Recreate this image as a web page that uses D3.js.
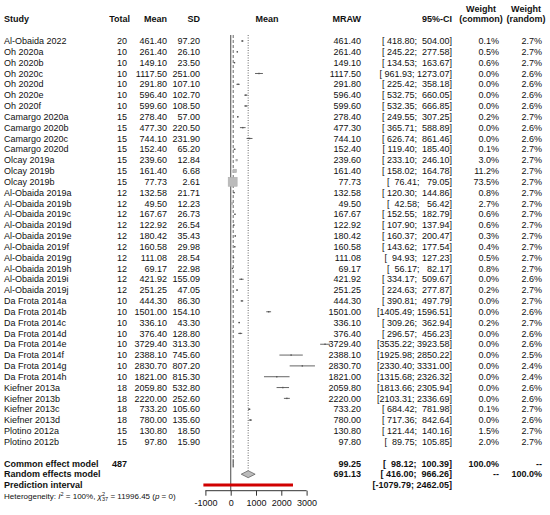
<!DOCTYPE html>
<html>
<head>
<meta charset="utf-8">
<script src="https://cdn.jsdelivr.net/npm/d3@7"></script>
<style>
  body { margin: 0; background: #fff; }
  svg text { font-family: "Liberation Sans", Arial, sans-serif; font-size: 9px; fill: #111; white-space: pre; }
  .bold { font-weight: bold; }
</style>
</head>
<body>
<svg id="chart" width="550" height="515" viewBox="0 0 550 515"></svg>
<script>
// ---- data ----
const studies = ["Al-Obaida 2022","Oh 2020a","Oh 2020b","Oh 2020c","Oh 2020d","Oh 2020e","Oh 2020f",
  "Camargo 2020a","Camargo 2020b","Camargo 2020c","Camargo 2020d","Olcay 2019a","Olcay 2019b","Olcay 2019b",
  "Al-Obaida 2019a","Al-Obaida 2019b","Al-Obaida 2019c","Al-Obaida 2019d","Al-Obaida 2019e","Al-Obaida 2019f",
  "Al-Obaida 2019g","Al-Obaida 2019h","Al-Obaida 2019i","Al-Obaida 2019j",
  "Da Frota 2014a","Da Frota 2014b","Da Frota 2014c","Da Frota 2014d","Da Frota 2014e","Da Frota 2014f",
  "Da Frota 2014g","Da Frota 2014h","Kiefner 2013a","Kiefner 2013b","Kiefner 2013c","Kiefner 2013d",
  "Plotino 2012a","Plotino 2012b"]
const totals = [20,10,10,10,10,10,10,15,15,15,15,15,15,15,12,12,12,12,12,12,12,12,12,12,
  10,10,10,10,10,10,10,10,18,18,18,18,15,15]
const means = [461.40,261.40,149.10,1117.50,291.80,596.40,599.60,278.40,477.30,744.10,152.40,239.60,161.40,77.73,
  132.58,49.50,167.67,122.92,180.42,160.58,111.08,69.17,421.92,251.25,
  444.30,1501.00,336.10,376.40,3729.40,2388.10,2830.70,1821.00,2059.80,2220.00,733.20,780.00,130.80,97.80]
const sds = [97.20,26.10,23.50,251.00,107.10,102.70,108.50,57.00,220.50,231.90,65.20,12.84,6.68,2.61,
  21.71,12.23,26.73,26.54,35.43,29.98,28.54,22.98,155.09,47.05,
  86.30,154.10,43.30,128.80,313.30,745.60,807.20,815.30,532.80,252.60,105.60,135.60,18.50,15.90]
const ciLower = [418.80,245.22,134.53,961.93,225.42,532.75,532.35,249.55,365.71,626.74,119.40,233.10,158.02,76.41,
  120.30,42.58,152.55,107.90,160.37,143.62,94.93,56.17,334.17,224.63,
  390.81,1405.49,309.26,296.57,3535.22,1925.98,2330.40,1315.68,1813.66,2103.31,684.42,717.36,121.44,89.75]
const ciUpper = [504.00,277.58,163.67,1273.07,358.18,660.05,666.85,307.25,588.89,861.46,185.40,246.10,164.78,79.05,
  144.86,56.42,182.79,137.94,200.47,177.54,127.23,82.17,509.67,277.87,
  497.79,1596.51,362.94,456.23,3923.58,2850.22,3331.00,2326.32,2305.94,2336.69,781.98,842.64,140.16,105.85]
const wCommon = [0.1,0.5,0.6,0.0,0.0,0.0,0.0,0.2,0.0,0.0,0.1,3.0,11.2,73.5,
  0.8,2.7,0.6,0.6,0.3,0.4,0.5,0.8,0.0,0.2,
  0.0,0.0,0.2,0.0,0.0,0.0,0.0,0.0,0.0,0.0,0.1,0.0,1.5,2.0]
const wRandom = [2.7,2.7,2.7,2.6,2.6,2.6,2.6,2.7,2.6,2.6,2.7,2.7,2.7,2.7,
  2.7,2.7,2.7,2.7,2.7,2.7,2.7,2.7,2.6,2.7,
  2.7,2.6,2.7,2.6,2.6,2.5,2.4,2.4,2.6,2.6,2.7,2.6,2.7,2.7]

const commonModel = {est: 99.25, lo: 98.12, hi: 100.39, total: 487}
const randomModel = {est: 691.13, lo: 416.00, hi: 966.26}
const predInterval = {lo: -1079.79, hi: 2462.05}
const xTicks = [-1000, 0, 1000, 2000, 3000]

// ---- layout ----
const svg = d3.select("#chart")
const rowY = d3.scaleLinear().domain([0, 1]).range([41, 51.83])   // row index -> y centre
const x = d3.scaleLinear().domain([0, 1000]).range([230.7, 256])   // plot scale
const f2 = d3.format(".2f")
const f1 = d3.format(".1f")
const pad = (s, n) => " ".repeat(Math.max(0, n - s.length)) + s
const fmtNum = v => f2(v).replace("−", "-")
const ciText = (lo, hi) => "[" + pad(fmtNum(lo), 7) + "; " + pad(fmtNum(hi), 7) + "]"

const col = {study: 4, total: 127, mean: 167, sd: 200, mraw: 361, ci: 452, wc: 499, wr: 542}

function txt(xp, row, s, anchor, cls) {
  return svg.append("text")
    .attr("x", xp).attr("y", rowY(row)).attr("dy", "0.35em")
    .attr("text-anchor", anchor || "end")
    .attr("class", cls || null)
    .text(s)
}

// headers
txt(col.study, -2, "Study", "start", "bold")
txt(130, -2, "Total", "end", "bold")
txt(col.mean, -2, "Mean", "end", "bold")
txt(col.sd, -2, "SD", "end", "bold")
txt(267, -2, "Mean", "middle", "bold")
txt(col.mraw, -2, "MRAW", "end", "bold")
txt(col.ci, -2, "95%-CI", "end", "bold")
txt(481, -3, "Weight", "middle", "bold")
txt(481, -2, "(common)", "middle", "bold")
txt(526, -3, "Weight", "middle", "bold")
txt(526, -2, "(random)", "middle", "bold")

// study rows
studies.forEach((s, i) => {
  txt(col.study, i, s, "start")
  txt(col.total, i, totals[i])
  txt(col.mean, i, f2(means[i]))
  txt(col.sd, i, f2(sds[i]))
  txt(col.mraw, i, f2(means[i]))
  txt(col.ci, i, ciText(ciLower[i], ciUpper[i]))
  txt(col.wc, i, f1(wCommon[i]) + "%")
  txt(col.wr, i, f1(wRandom[i]) + "%")
})

// summary rows
const rC = studies.length + 1, rR = rC + 1, rP = rR + 1
txt(col.study, rC, "Common effect model", "start", "bold")
txt(col.total, rC, commonModel.total, "end", "bold")
txt(col.mraw, rC, f2(commonModel.est), "end", "bold")
txt(col.ci, rC, ciText(commonModel.lo, commonModel.hi), "end", "bold")
txt(col.wc, rC, "100.0%", "end", "bold")
txt(col.wr, rC, "--", "end", "bold")
txt(col.study, rR, "Random effects model", "start", "bold")
txt(col.mraw, rR, f2(randomModel.est), "end", "bold")
txt(col.ci, rR, ciText(randomModel.lo, randomModel.hi), "end", "bold")
txt(col.wc, rR, "--", "end", "bold")
txt(col.wr, rR, "100.0%", "end", "bold")
txt(col.study, rP, "Prediction interval", "start", "bold")
txt(col.ci, rP, "[" + fmtNum(predInterval.lo) + "; " + fmtNum(predInterval.hi) + "]", "end", "bold")

// heterogeneity line
const het = svg.append("text").attr("x", col.study).attr("y", rowY(rP + 1)).attr("dy", "0.35em")
  .style("font-size", "8px")
het.append("tspan").text("Heterogeneity: ")
het.append("tspan").style("font-style", "italic").text("I")
het.append("tspan").attr("dy", -3).style("font-size", "5.5px").text("2")
het.append("tspan").attr("dy", 3).text(" = 100%, ")
het.append("tspan").style("font-style", "italic").text("χ")
het.append("tspan").attr("dy", -3).style("font-size", "5.5px").text("2")
het.append("tspan").attr("dx", -3).attr("dy", 5).style("font-size", "5.5px").text("37")
het.append("tspan").attr("dy", -2).text(" = 11996.45 (")
het.append("tspan").style("font-style", "italic").text("p")
het.append("tspan").text(" = 0)")

// ---- forest panel ----
const plot = svg.append("g")
const axisY = 490.7
const topY = 35

// reference and summary lines
plot.append("line").attr("x1", x(0)).attr("x2", x(0)).attr("y1", topY).attr("y2", axisY)
  .attr("stroke", "#666").attr("stroke-width", 1.2)
plot.append("line").attr("x1", x(commonModel.est)).attr("x2", x(commonModel.est))
  .attr("y1", topY).attr("y2", rowY(rC) - 4)
  .attr("stroke", "#444").attr("stroke-width", 0.8).attr("stroke-dasharray", "3,2")
plot.append("line").attr("x1", x(randomModel.est)).attr("x2", x(randomModel.est))
  .attr("y1", topY).attr("y2", rowY(rR) - 3.5)
  .attr("stroke", "#444").attr("stroke-width", 0.8).attr("stroke-dasharray", "1,1.5")

// study CIs and weighted squares
const side = d3.scaleSqrt().domain([0, 73.5]).range([0, 9])
const sq = w => Math.max(1.4, side(w))
const g = plot.selectAll(".study").data(studies).enter().append("g").attr("class", "study")
g.append("line")
  .attr("x1", (d, i) => x(ciLower[i])).attr("x2", (d, i) => x(ciUpper[i]))
  .attr("y1", (d, i) => rowY(i)).attr("y2", (d, i) => rowY(i))
  .attr("stroke", "#222").attr("stroke-width", 0.7)
g.append("rect")
  .attr("width", (d, i) => sq(wCommon[i]))
  .attr("height", (d, i) => sq(wCommon[i]))
  .attr("x", (d, i) => x(means[i]) - sq(wCommon[i]) / 2)
  .attr("y", (d, i) => rowY(i) - sq(wCommon[i]) / 2)
  .attr("fill", (d, i) => wCommon[i] > 1 ? "#bbb" : "#555")
  .attr("stroke", (d, i) => wCommon[i] > 1 ? "#aaa" : "none")
  .attr("stroke-width", 0.5)

// summary diamonds
const diamond = (m, row, half) => {
  const cy = rowY(row)
  return `M${x(m.lo)},${cy} L${x(m.est)},${cy - half} L${x(m.hi)},${cy} L${x(m.est)},${cy + half} Z`
}
plot.append("path").attr("d", diamond(commonModel, rC, 4))
  .attr("fill", "#999").attr("stroke", "#555").attr("stroke-width", 0.8)
plot.append("path").attr("d", diamond(randomModel, rR, 3.5))
  .attr("fill", "#bbb").attr("stroke", "#555").attr("stroke-width", 0.7)

// prediction interval
plot.append("line").attr("x1", x(predInterval.lo)).attr("x2", x(predInterval.hi))
  .attr("y1", rowY(rP)).attr("y2", rowY(rP))
  .attr("stroke", "#d00000").attr("stroke-width", 3)

// x axis
const axis = plot.append("g").attr("transform", `translate(0,${axisY})`)
  .call(d3.axisBottom(x).tickValues(xTicks).tickSize(5).tickPadding(4).tickFormat(d => String(d)))
axis.select(".domain").attr("stroke", "#333").attr("d", `M${x(xTicks[0])},0H${x(xTicks[xTicks.length - 1])}`)
axis.selectAll(".tick line").attr("stroke", "#333")
axis.selectAll(".tick text").style("font-size", "9px").attr("fill", "#111")
</script>
</body>
</html>
